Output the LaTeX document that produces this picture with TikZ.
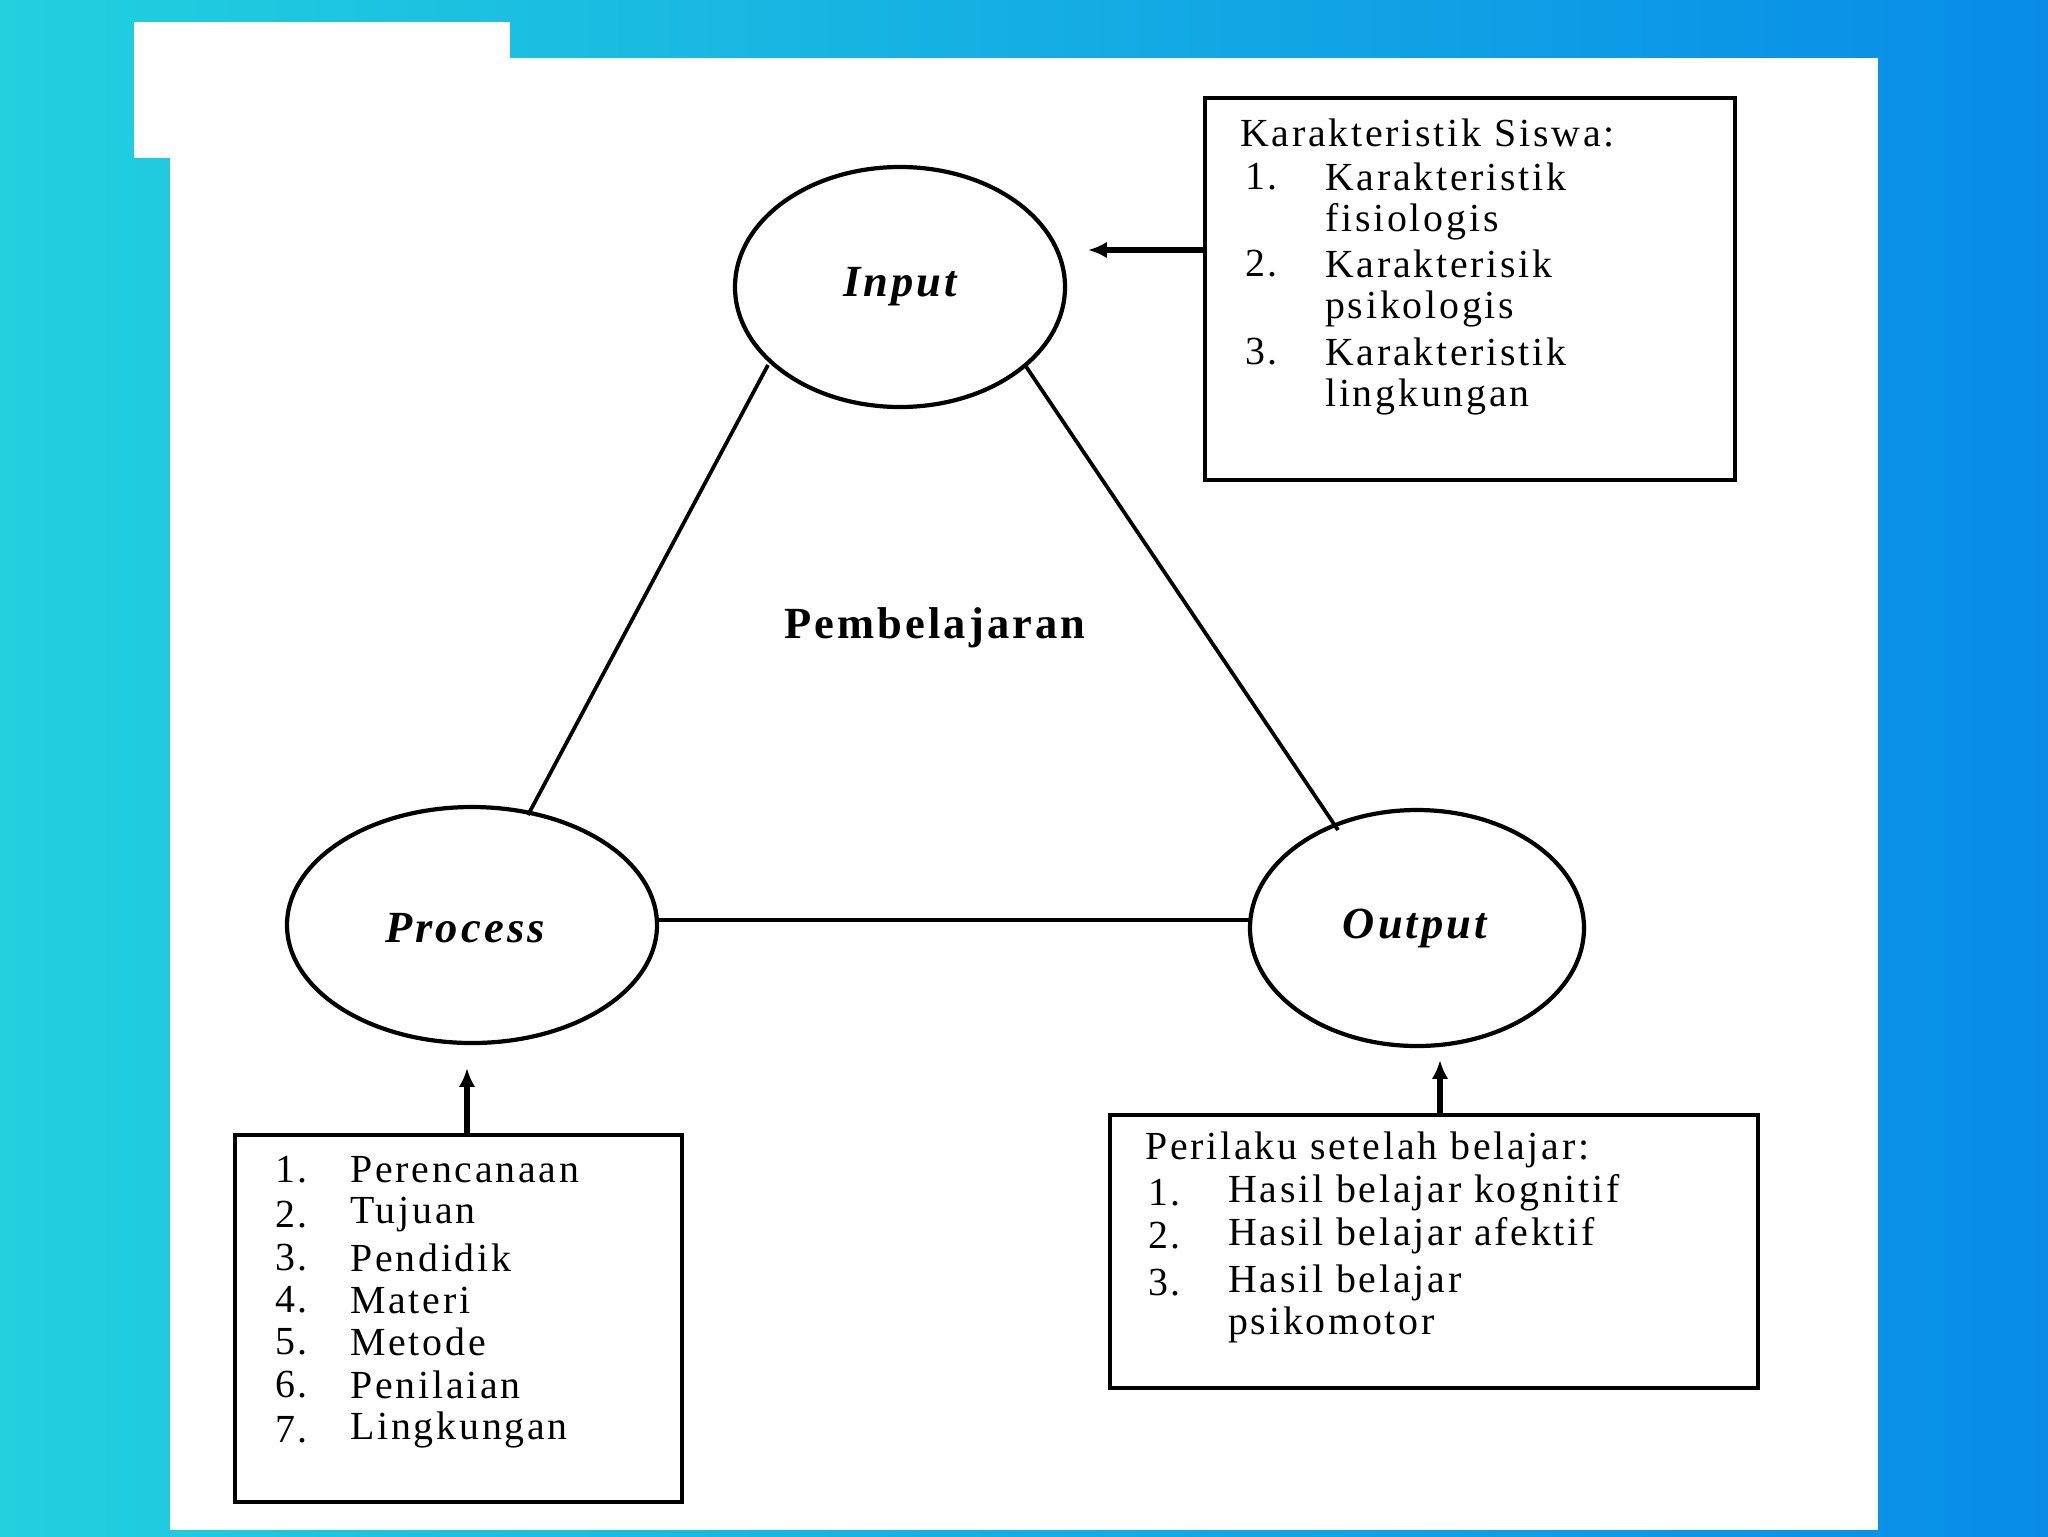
\documentclass[tikz,border=0pt]{standalone}
\usepackage{fontspec}
\setmainfont{Liberation Serif}[LetterSpace=7]
\usetikzlibrary{arrows.meta}
\begin{document}
\begin{tikzpicture}[x=0.3mm,y=-0.3mm,
  t/.style={anchor=west,inner sep=0pt,font=\fontsize{34}{38}\selectfont},
  bx/.style={draw,line width=3.4pt},
  ln/.style={line width=3.2pt},
  ar/.style={line width=4.5pt,-{Latex[length=16pt,width=14pt]}}]
\useasboundingbox (0,0) rectangle (2048,1536);
\shade[left color={rgb,255:red,34;green,208;blue,222},right color={rgb,255:red,8;green,140;blue,232}] (0,0) rectangle (2048,1536);
\fill[white] (134,22) rectangle (510,158);
\fill[white] (170,58) rectangle (1878,1530);
\draw[line width=3.6pt] (900,287) ellipse (165 and 120);
\draw[line width=3.6pt] (472,925) ellipse (185 and 118);
\draw[line width=3.6pt] (1417,928) ellipse (167 and 118);
\node (in) at (900,287) {\fontsize{38}{40}\selectfont\bfseries\itshape Input};
\node (pr) at (465,928) {\fontsize{38}{40}\selectfont\bfseries\itshape Process};
\node (ou) at (1415,928) {\fontsize{38}{40}\selectfont\bfseries\itshape Output};
\coordinate (a1) at (768,365); \coordinate (a2) at (528,815);
\coordinate (b1) at (1025,365); \coordinate (b2) at (1338,830);
\coordinate (c1) at (657,920); \coordinate (c2) at (1250,920);
\draw[ln] (a1)--(a2); \draw[ln] (b1)--(b2); \draw[ln] (c1)--(c2);
\node (pb) at (935,628) {\fontsize{38}{40}\selectfont\bfseries Pembelajaran};
\draw[bx] (1205,98) rectangle (1735,480);
\coordinate (k1) at (1205,250); \coordinate (k2) at (1088,250);
\draw[ar] (k1)--(k2);
\node[t] at (1240,133) {Karakteristik Siswa:};
\node[t] at (1245,177) {1.}; \node[t] at (1325,177) {Karakteristik};
\node[t] at (1325,222) {fisiologis};
\node[t] at (1245,264) {2.}; \node[t] at (1325,264) {Karakterisik};
\node[t] at (1325,309) {psikologis};
\node[t] at (1245,352) {3.}; \node[t] at (1325,352) {Karakteristik};
\node[t] at (1325,397) {lingkungan};
\draw[bx] (235,1135) rectangle (682,1502);
\coordinate (p1) at (467,1135); \coordinate (p2) at (467,1068);
\draw[ar] (p1)--(p2);
\foreach \n/\s/\y in {1/Perencanaan/1170,2/Tujuan/1215,3/Pendidik/1258,4/Materi/1300,5/Metode/1342,6/Penilaian/1385,7/Lingkungan/1430}{
  \node[t] at (275,\y) {\n.}; \node[t] at (350,\y) {\s};}
\draw[bx] (1110,1115) rectangle (1758,1388);
\coordinate (o1) at (1440,1115); \coordinate (o2) at (1440,1060);
\draw[ar] (o1)--(o2);
\node[t] at (1145,1150) {Perilaku setelah belajar:};
\node[t] at (1148,1193) {1.}; \node[t] at (1228,1193) {Hasil belajar kognitif};
\node[t] at (1148,1236) {2.}; \node[t] at (1228,1236) {Hasil belajar afektif};
\node[t] at (1148,1283) {3.}; \node[t] at (1228,1283) {Hasil belajar};
\node[t] at (1228,1325) {psikomotor};
\end{tikzpicture}
\end{document}
